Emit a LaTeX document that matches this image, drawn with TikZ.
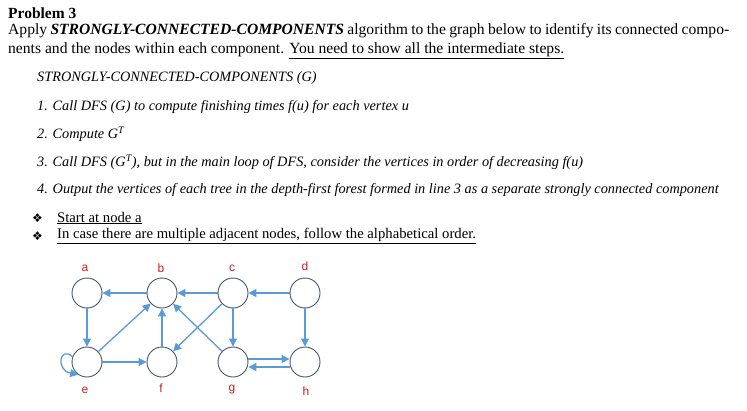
\documentclass[tikz,border=0pt]{standalone}
\usepackage{fontspec}
\setmainfont{Liberation Serif}
\newfontfamily\sansf{Liberation Sans}
\newfontfamily\dejav{DejaVu Sans}
\usetikzlibrary{arrows.meta}
\definecolor{edgeblue}{RGB}{91,155,213}
\definecolor{ncirc}{RGB}{68,84,106}
\definecolor{lred}{RGB}{200,30,30}
\tikzset{
  vtx/.style={circle,draw=ncirc,line width=0.9pt,minimum size=30pt,inner sep=0pt,fill=white},
  lbl/.style={font=\sansf\fontsize{12}{14}\selectfont,text=lred},
  edge/.style={draw=edgeblue,line width=1.3pt,-{Triangle[length=8pt,width=8pt]}},
  txt/.style={anchor=west,inner sep=0pt},
  itl/.style={txt,font=\fontsize{14.3}{17}\selectfont\itshape},
}
\begin{document}
\begin{tikzpicture}[x=1pt,y=-1pt]
\useasboundingbox (0,0) rectangle (747,410);
\node[txt,font=\fontsize{15.5}{18}\selectfont\bfseries] (t0) at (8,13) {Problem 3};
\node[anchor=north west,inner sep=0pt,text width=721pt,align=justify,font=\fontsize{15.6}{19}\selectfont] (t1) at (8,23)
 {\hyphenpenalty=10000 \exhyphenpenalty=10000 Apply \textbf{\textit{STRONGLY-CONNECTED-COMPONENTS}} algorithm to the graph below to identify its connected components and the nodes within each component. \underline{You need to show all the intermediate steps.}};
\node[itl] (s0) at (37,78) {STRONGLY-CONNECTED-COMPONENTS (G)};
\node[itl] (s1) at (37,107) {1. Call DFS (G) to compute finishing times f(u) for each vertex u};
\node[itl] (s2) at (37,134) {2. Compute G\textsuperscript{T}};
\node[itl] (s3) at (37,162) {3. Call DFS (G\textsuperscript{T}), but in the main loop of DFS, consider the vertices in order of decreasing f(u)};
\node[itl] (s4) at (37,190) {4. Output the vertices of each tree in the depth-first forest formed in line 3 as a separate strongly connected component};
\node[txt,font=\dejav\fontsize{12}{13}\selectfont] (b1) at (32,218) {❖};
\node[txt,font=\fontsize{14.7}{16}\selectfont] (u1) at (57,218) {\underline{Start at node a}};
\node[txt,font=\dejav\fontsize{12}{13}\selectfont] (b2) at (32,236) {❖};
\node[txt,font=\fontsize{14.7}{16}\selectfont] (u2) at (57,236) {\underline{In case there are multiple adjacent nodes, follow the alphabetical order.}};

\node[vtx] (a) at (87,293) {};
\node[vtx] (b) at (162,293) {};
\node[vtx] (c) at (233,293) {};
\node[vtx] (d) at (305,293) {};
\node[vtx] (e) at (87,362) {};
\node[vtx] (f) at (162,362) {};
\node[vtx] (g) at (233,362) {};
\node[vtx] (h) at (305,362) {};
\node[lbl] (la) at (85,268) {a};
\node[lbl] (lb) at (161,268) {b};
\node[lbl] (lc) at (232,268) {c};
\node[lbl] (ld) at (305,266) {d};
\node[lbl] (le) at (85,390) {e};
\node[lbl] (lf) at (161,388) {f};
\node[lbl] (lg) at (232,390) {g};
\node[lbl] (lh) at (306,391) {h};

\path[edge] (b) -- (a);
\path[edge] (c) -- (b);
\path[edge] (d) -- (c);
\path[edge] (a) -- (e);
\path[edge] (e) -- (b);
\path[edge] (f) -- (b);
\path[edge] (e) -- (f);
\path[edge] (c) -- (f);
\path[edge] (g) -- (b);
\path[edge] (c) -- (g);
\path[edge] (d) -- (h);
\path[edge] ([yshift=3pt]g.east) -- ([yshift=3pt]h.west);
\path[edge] ([yshift=-5pt]h.west) -- ([yshift=-5pt]g.east);
\path[edge] (e.160) .. controls (60,345) and (55,370) .. (e.235);
\end{tikzpicture}
\end{document}
